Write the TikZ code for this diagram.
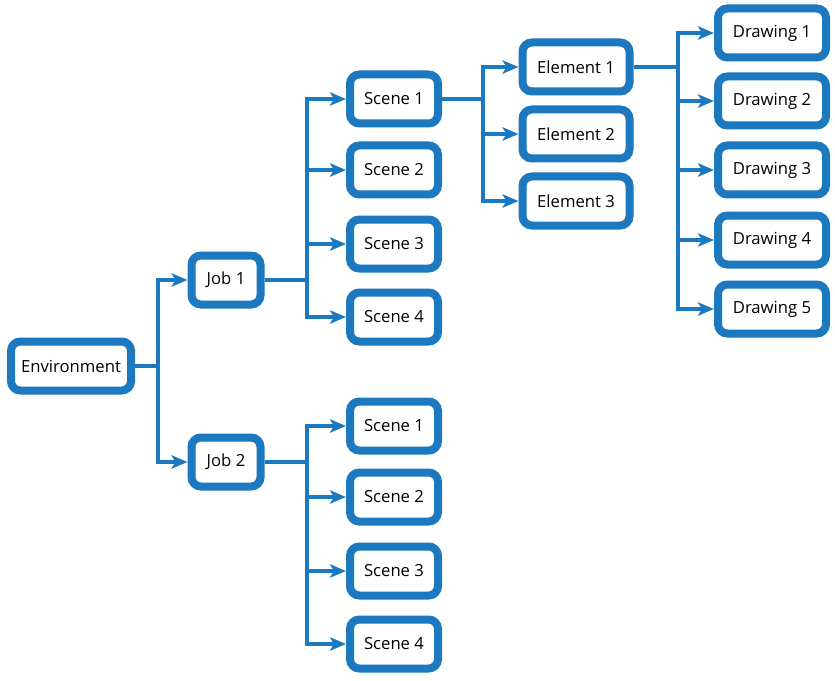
\documentclass[tikz,border=0pt]{standalone}
\usepackage{fontspec}
\setmainfont{Open Sans}
\usetikzlibrary{arrows.meta,shadows}
\definecolor{bb}{HTML}{1C78BF}
\begin{document}
\begin{tikzpicture}[x=0.75pt,y=-0.75pt,
 box/.style={draw=bb,line width=6pt,fill=white,rounded corners=7pt,minimum height=49*0.75pt,font=\fontsize{12.5}{14}\selectfont,inner sep=0pt,drop shadow={shadow xshift=1pt,shadow yshift=-1.5pt,opacity=0.3}},
 ln/.style={draw=bb,line width=3pt},
 ar/.style={ln,-{Stealth[length=12pt,width=10pt,inset=3pt]}}]
\useasboundingbox (0,0) rectangle (835,681);
\node[box,minimum width=120*0.75pt] (env) at (71,366) {Environment};
\node[box,minimum width=69*0.75pt] (j1) at (226,280) {Job 1};
\node[box,minimum width=69*0.75pt] (j2) at (226,462) {Job 2};
\foreach \n/\y in {1/99,2/170,3/244,4/317}{\node[box,minimum width=88*0.75pt] (a\n) at (394,\y) {Scene \n};}
\foreach \n/\y in {1/426,2/497,3/571,4/644}{\node[box,minimum width=88*0.75pt] (b\n) at (394,\y) {Scene \n};}
\foreach \n/\y in {1/67,2/134,3/201}{\node[box,minimum width=107*0.75pt] (e\n) at (576,\y) {Element \n};}
\foreach \n/\y in {1/33,2/101,3/170,4/240,5/309}{\node[box,minimum width=108*0.75pt] (d\n) at (772,\y) {Drawing \n};}
\coordinate (t0) at (158,366);
\coordinate (t1) at (307,280);
\coordinate (t2) at (307,462);
\coordinate (t3) at (483,99);
\coordinate (t4) at (678,67);
\draw[ln] (env.east) -- (t0);
\foreach \j in {j1,j2}{\draw[ar] (t0) |- (\j.west);}
\draw[ln] (j1.east) -- (t1);
\foreach \n in {1,...,4}{\draw[ar] (t1) |- (a\n.west);}
\draw[ln] (j2.east) -- (t2);
\foreach \n in {1,...,4}{\draw[ar] (t2) |- (b\n.west);}
\draw[ln] (a1.east) -- (t3);
\foreach \n in {1,...,3}{\draw[ar] (t3) |- (e\n.west);}
\draw[ln] (e1.east) -- (t4);
\foreach \n in {1,...,5}{\draw[ar] (t4) |- (d\n.west);}
\end{tikzpicture}
\end{document}
